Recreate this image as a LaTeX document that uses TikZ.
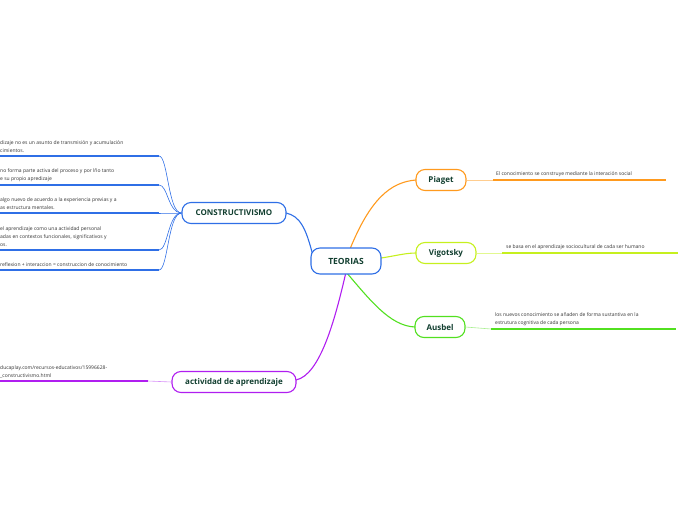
\documentclass[tikz,border=0pt]{standalone}
\usepackage{fontspec}
\setmainfont{Open Sans}
\begin{document}
\begin{tikzpicture}[x=1pt,y=-1pt,
  main/.style={draw=#1,line width=1.1pt,rounded corners=9pt,fill=white,font=\bfseries\fontsize{8}{9}\selectfont,text=tgreen,minimum height=21pt,inner xsep=8pt},
  leaf/.style={font=\fontsize{5}{8}\selectfont,text=black!80,align=left,anchor=south west,inner sep=1pt},
  conn/.style={line width=1.1pt,draw=#1}]
\definecolor{tgreen}{HTML}{123F30}
\definecolor{cblue}{HTML}{2F6FE6}
\definecolor{cpurp}{HTML}{B01EF0}
\definecolor{corange}{HTML}{FF9A1E}
\definecolor{cyel}{HTML}{C6F01E}
\definecolor{cgreen}{HTML}{52E020}
\useasboundingbox (0,0) rectangle (696,520);
\clip (0,0) rectangle (696,520);
% connectors
\coordinate (tl) at (313,256);
\coordinate (tb) at (346,272);
\coordinate (tt) at (350,249);
\coordinate (tr) at (381,258);
\draw[conn=cblue] (286,213) .. controls (300,216) and (306,228) .. (tl);
\draw[conn=cpurp] (296,380) .. controls (320,375) and (335,320) .. (tb);
\draw[conn=corange] (tt) .. controls (370,200) and (390,182) .. (416,180);
\draw[conn=cyel] (tr) .. controls (395,256) and (405,253) .. (416,253);
\draw[conn=cgreen] (tb) .. controls (370,300) and (390,326) .. (415,327);
% main nodes
\node[main=cblue,minimum width=70pt,minimum height=26pt,font=\bfseries\fontsize{8.5}{9}\selectfont] (teo) at (346,261) {TEORIAS};
\node[main=cblue,minimum width=104pt] (con) at (234,213) {CONSTRUCTIVISMO};
\node[main=cpurp,minimum width=124pt] (act) at (234,382) {actividad de aprendizaje};
\node[main=corange,minimum width=50pt] (pia) at (441,180) {Piaget};
\node[main=cyel,minimum width=60pt] (vig) at (446,253) {Vigotsky};
\node[main=cgreen,minimum width=50pt] (aus) at (440,327) {Ausbel};
% right leaves
\coordinate (pl) at (493,180); \coordinate (pe) at (666,180);
\draw[corange!50,line width=0.6pt] (pia.east) -- (pl);
\draw[corange,line width=1.5pt] (pl) -- (pe);
\node[leaf] (pt) at (495,178) {El conocimiento se construye mediante la interación social};
\coordinate (vl) at (502,253); \coordinate (ve) at (678,253);
\draw[cyel!50,line width=0.6pt] (vig.east) -- (vl);
\draw[cyel,line width=1.5pt] (vl) -- (ve);
\node[leaf] (vt) at (505,251) {se basa en el aprendizaje sociocultural de cada ser humano};
\coordinate (al) at (491,329); \coordinate (ae) at (676,329);
\draw[cgreen!50,line width=0.6pt] (aus.east) -- (al);
\draw[cgreen,line width=1.5pt] (al) -- (ae);
\node[leaf] (at) at (494,327) {los nuevos conocimiento se añaden  de forma sustantiva en la\\estrutura cognitiva de cada persona};
% constructivismo leaves
\foreach \y/\n in {156/a,185/b,213/c,250/d,270/e}{
  \coordinate (c\n) at (159,\y);
  \draw[cblue,line width=0.6pt] (con.west) .. controls (168,213) and (168,\y) .. (c\n);
  \draw[cblue,line width=1.5pt] (c\n) -- (-5,\y);
}
\node[leaf] (la) at (-1,154) {dizaje no es un asunto de transmisión y acumulación\\cimientos.};
\node[leaf] (lb) at (-1,183) {no forma parte activa del proceso y por lño tanto\\e su propio apredizaje};
\node[leaf] (lc) at (-1,211) {algo nuevo de acuerdo a la experiencia  previas y a\\as estructura mentales.};
\node[leaf] (ld) at (-1,248) {el aprendizaje como una actividad personal\\adas en contextos funcionales, significativos y\\os.};
\node[leaf] (le) at (-1,268) {reflexion + interaccion = construccion de conocimiento};
% actividad leaf
\coordinate (xl) at (148,381);
\draw[cpurp!50,line width=0.6pt] (act.west) -- (xl);
\draw[cpurp,line width=1.5pt] (xl) -- (-5,381);
\node[leaf] (xt) at (-1,379) {ducaplay.com/recursos-educativos/15996628-\\\_constructivismo.html};
\end{tikzpicture}
\end{document}
